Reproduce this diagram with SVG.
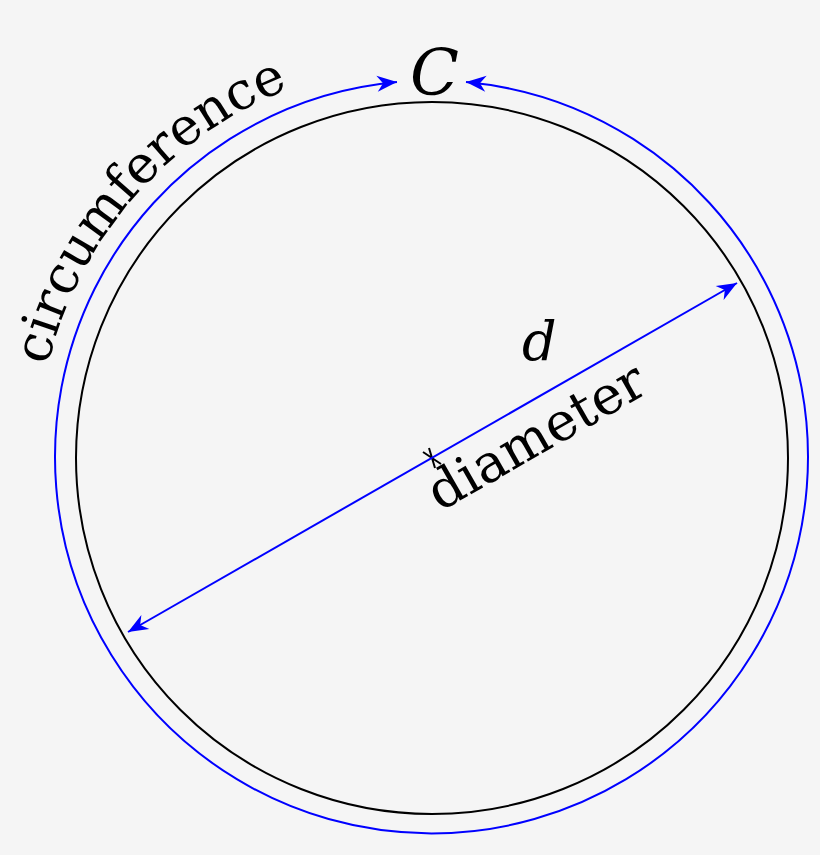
<svg xmlns="http://www.w3.org/2000/svg" width="820" height="855" viewBox="0 0 820 855">
<style>
.blue{fill:none;stroke:#0000ff;stroke-width:2}
.lbl{font-family:"DejaVu Serif",serif;fill:#000}
.var{font-family:"DejaVu Serif",serif;font-style:italic;fill:#000}
</style>
<defs>
<marker id="arr" markerUnits="userSpaceOnUse" markerWidth="30" markerHeight="20" viewBox="-22 -10 24 20" refX="0" refY="0" orient="auto-start-reverse">
<path d="M0,0 L-20,-8 L-14,0 L-20,8 z" fill="#0000ff"/>
</marker>
<path id="cp" d="M37,457 A395,395 0 0 1 432,62"/>
</defs>
<rect width="820" height="855" fill="#f5f5f5"/>
<g id="circle"><circle cx="432" cy="458" r="356" fill="none" stroke="#000" stroke-width="2"/>
<path d="M423,452 L441,464 M429,448 L435,468" stroke="#000" stroke-width="2"/></g>
<g id="connectors">
<path class="blue" d="M397,82 A376.5,376.5 0 1 0 466,82" marker-start="url(#arr)" marker-end="url(#arr)"/>
<path class="blue" d="M128,632 L737,283" marker-start="url(#arr)" marker-end="url(#arr)"/>
</g>
<g id="labels">
<text class="var" x="410" y="95" font-size="64">C</text>
<text class="var" x="522" y="360" font-size="54">d</text>
<text class="lbl" font-size="52"><textPath href="#cp" startOffset="92">circumference</textPath></text>
<text class="lbl" font-size="53" transform="translate(440,512) rotate(-29.8)">diameter</text>
</g>
</svg>
